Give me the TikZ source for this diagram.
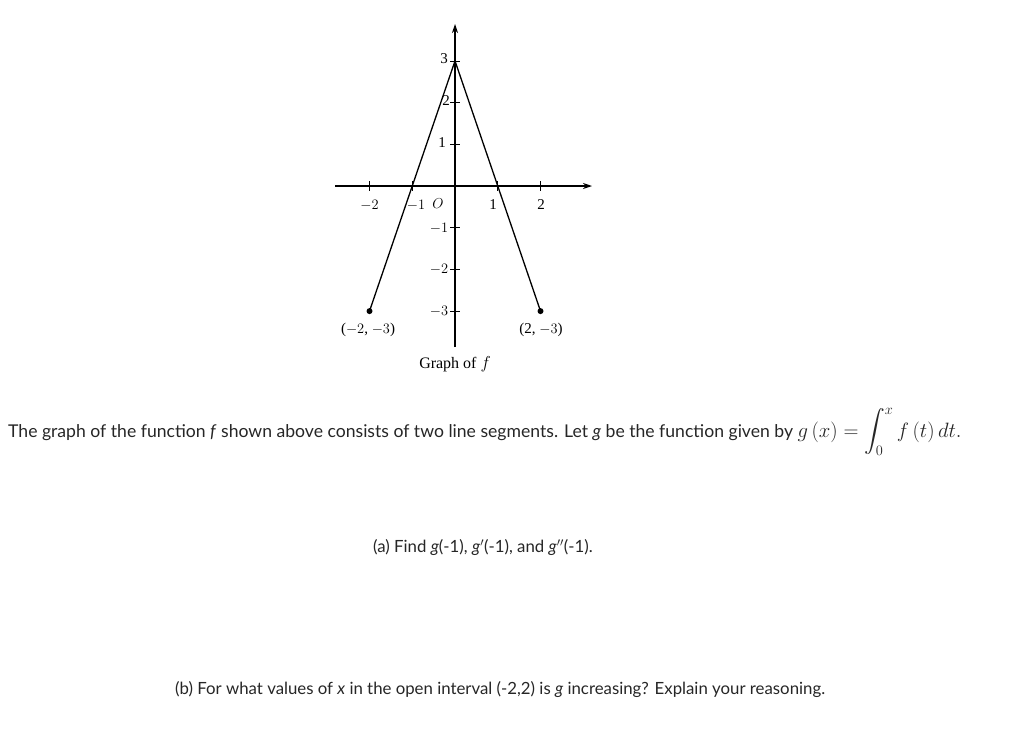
\documentclass[tikz,border=0pt]{standalone}
\usepackage{fontspec}
\usepackage{amsmath}
\setmainfont{Liberation Serif}
\newfontfamily\bodyfont{Lato}
\usetikzlibrary{arrows.meta}
\begin{document}
\begin{tikzpicture}[x=1pt,y=-1pt,
  ax/.style={line width=1.1pt,-{Stealth[length=9pt,width=6pt]}},
  tk/.style={line width=0.7pt},
  gr/.style={line width=1.3pt},
  lbl/.style={font=\fontsize{15}{17}\selectfont,inner sep=1pt},
  body/.style={font=\bodyfont\fontsize{16.8}{19}\selectfont,inner sep=0pt,text=black!85}]
\useasboundingbox (0,0) rectangle (1024,737);
\coordinate (xs) at (335,186); \coordinate (xe) at (592,186);
\coordinate (ys) at (455,347); \coordinate (ye) at (455,24);
\draw[ax] (xs) -- (xe);
\draw[ax] (ys) -- (ye);
\foreach \i in {-2,-1,1,2} \draw[tk] ({455+42.75*\i},181) -- ({455+42.75*\i},191);
\foreach \j in {-3,-2,-1,1,2,3} \draw[tk] (450,{186-41.7*\j}) -- (460,{186-41.7*\j});
\node[lbl] (xm2) at (369.5,205) {$-2$};
\node[lbl] (xm1) at (416,205) {$-1$};
\node[lbl] (o) at (438,204) {$O$};
\node[lbl] (x1) at (493,205) {1};
\node[lbl] (x2) at (541,205) {2};
\node[lbl] (y3) at (444,59) {3};
\node[lbl] (y2) at (446,101) {2};
\node[lbl] (y1) at (442,143) {1};
\node[lbl] (ym1) at (439,228) {$-1$};
\node[lbl] (ym2) at (439,269) {$-2$};
\node[lbl] (ym3) at (439,311) {$-3$};
\coordinate (pl) at (369.5,311.1);
\coordinate (pt) at (455,60.9);
\coordinate (pr) at (540.5,311.1);
\draw[gr,line join=round] (pl) -- (pt) -- (pr);
\fill (pl) circle (3pt); \fill (pr) circle (3pt);
\node[lbl] (lpl) at (368,330) {($-2$, $-3$)};
\node[lbl] (lpr) at (541,330) {(2, $-3$)};
\node[lbl,font=\fontsize{16}{18}\selectfont] (cap) at (455,364) {Graph of $f$};
\node[body,anchor=west,font=\bodyfont\fontsize{17.6}{20}\selectfont] (t1) at (8,432) {The graph of the function \textit{f} shown above consists of two line segments. Let \textit{g} be the function given by {\fontsize{20}{22}\selectfont$g\left(x\right)=\displaystyle\int_0^x f\left(t\right)dt.$}};
\node[body] (ta) at (483,548) {(a) Find \textit{g}(-1), \textit{g}$'$(-1), and \textit{g}$''$(-1).};
\node[body,anchor=west] (tb) at (175,690) {(b) For what values of \textit{x} in the open interval (-2,2) is \textit{g} increasing? Explain your reasoning.};
\end{tikzpicture}
\end{document}
